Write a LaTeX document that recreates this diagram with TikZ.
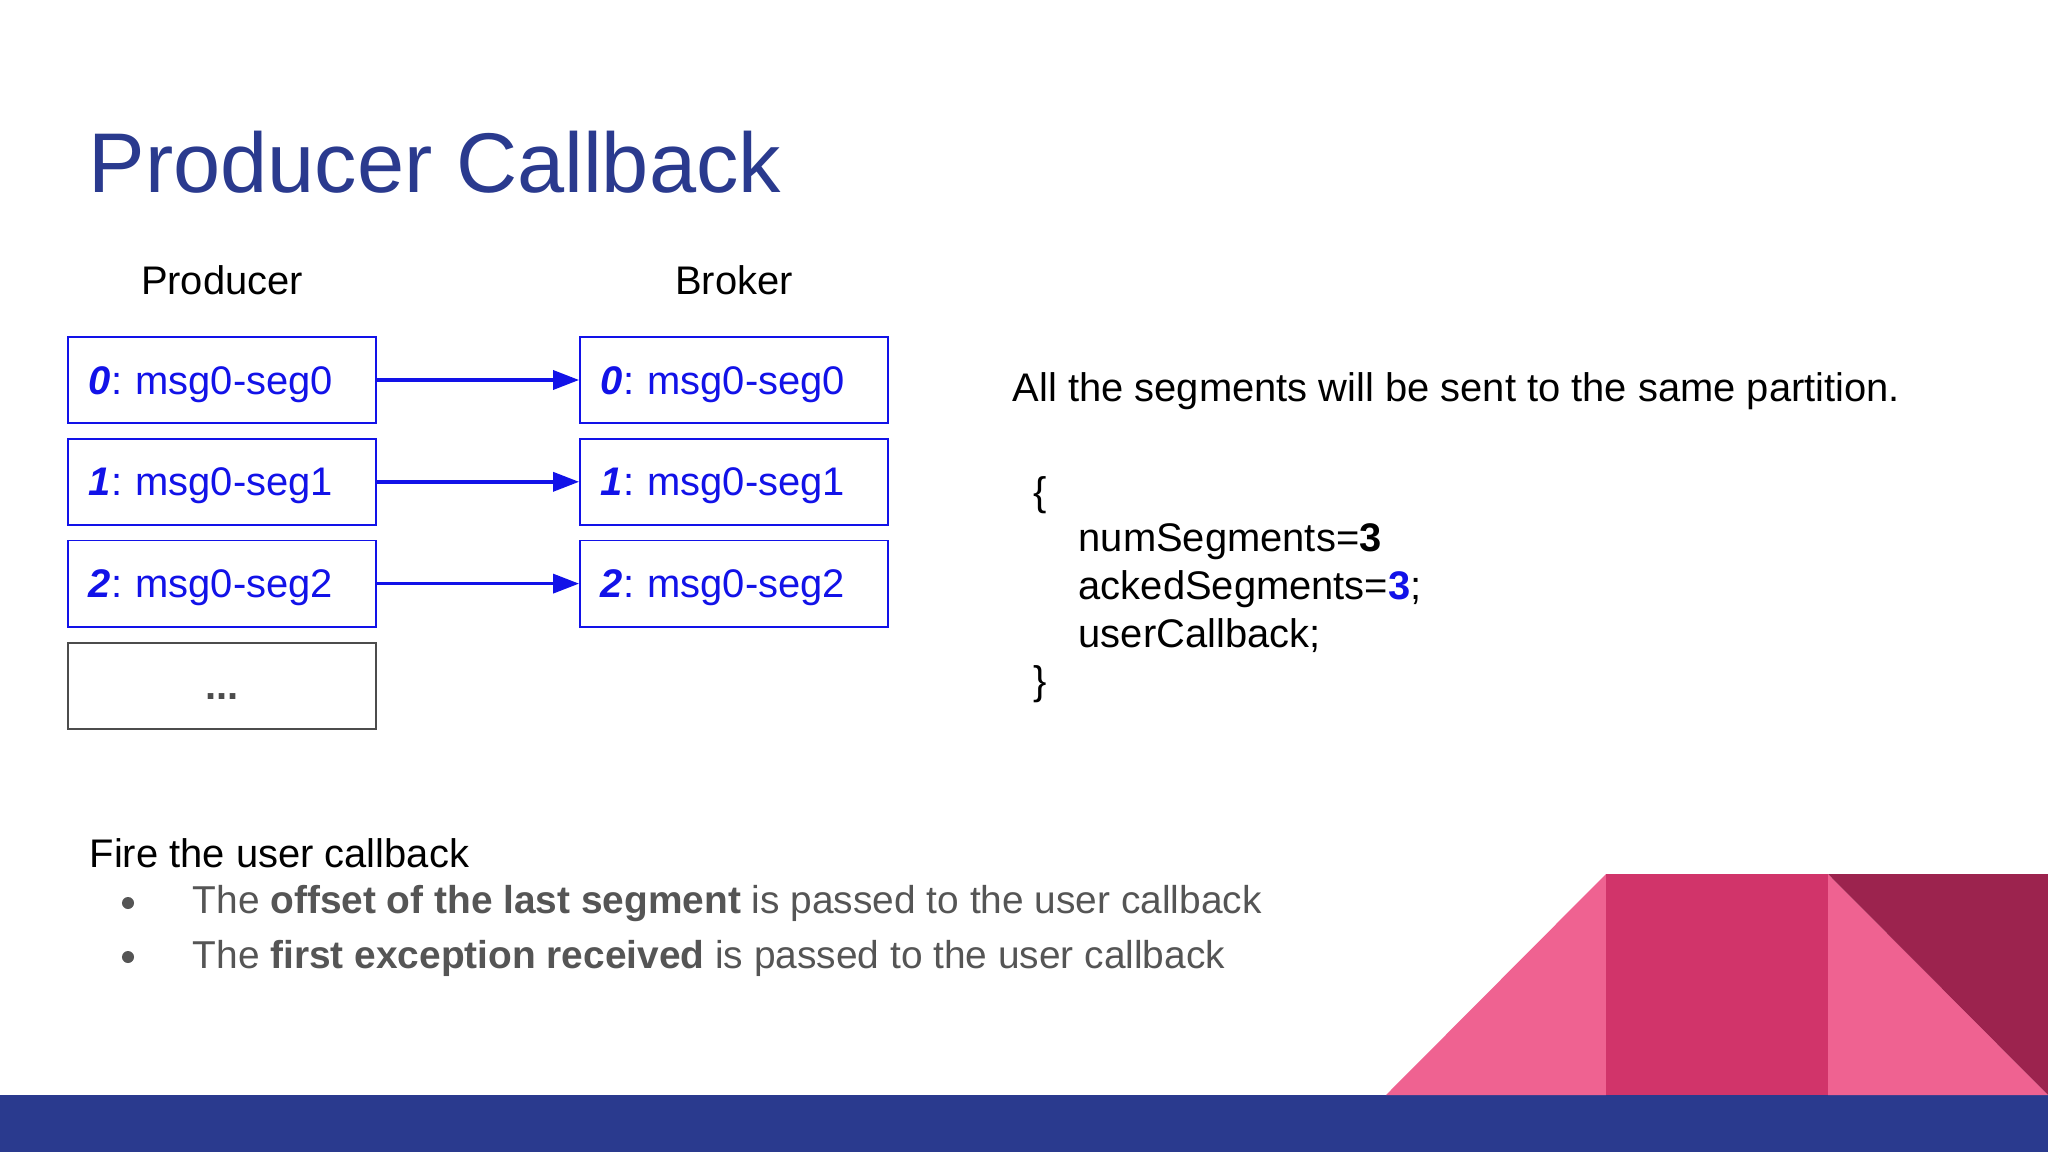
\documentclass[tikz,border=0pt]{standalone}
\usepackage{fontspec}
\setmainfont{Liberation Sans}
\usetikzlibrary{arrows.meta,positioning}
\definecolor{titleblue}{RGB}{42,58,142}
\definecolor{segblue}{RGB}{18,18,232}
\definecolor{bodygray}{RGB}{85,85,85}
\definecolor{lightpink}{RGB}{239,98,145}
\definecolor{midpink}{RGB}{209,52,106}
\definecolor{darkpink}{RGB}{156,35,78}
\frenchspacing

\begin{document}
\begin{tikzpicture}[
  x=0.01cm,y=-0.01cm,
  every node/.style={font=\fontsize{11.35}{13.7}\selectfont},
  seg/.style={draw=segblue,line width=0.5pt,text=segblue,text width=2.66cm,inner xsep=0.21cm,minimum height=0.86cm,text height=0.36cm,text depth=0.08cm,align=left},
  more/.style={draw=black!70,line width=0.7pt,text=black!70,minimum width=3.08cm,minimum height=0.86cm,text height=0.36cm,text depth=0.08cm},
  send/.style={segblue,line width=1pt,-{Triangle[length=2.6mm,width=1.9mm]}},
  txt/.style={anchor=base west,inner sep=0pt},
  bull/.style={txt,text=bodygray,font=\fontsize{11.05}{13.5}\selectfont},
  dot/.style={circle,fill=bodygray,inner sep=0pt,minimum size=0.12cm}
]
\fill[white] (0,0) rectangle (2048,1152);
\useasboundingbox (0,0) rectangle (2048,1152);

\node[txt,text=titleblue,font=\fontsize{24.1}{28}\selectfont] (title) at (88,193) {Producer Callback};
\node[anchor=base] (prodlabel) at (222,295) {Producer};
\node[anchor=base] (brokerlabel) at (734,295) {Broker};

\node[seg] (p0) at (222,380) {{\bfseries\itshape 0}: msg0-seg0};
\node[seg,below=0.14cm of p0] (p1) {{\bfseries\itshape 1}: msg0-seg1};
\node[seg,below=0.14cm of p1] (p2) {{\bfseries\itshape 2}: msg0-seg2};
\node[more,below=0.14cm of p2] (pmore) {\textbf{...}};
\node[seg,right=2.02cm of p0] (b0) {{\bfseries\itshape 0}: msg0-seg0};
\node[seg,right=2.02cm of p1] (b1) {{\bfseries\itshape 1}: msg0-seg1};
\node[seg,right=2.02cm of p2] (b2) {{\bfseries\itshape 2}: msg0-seg2};
\draw[send] (p0) -- (b0);
\draw[send] (p1) -- (b1);
\draw[send] (p2) -- (b2);

\node[txt] (note) at (1012,402) {All the segments will be sent to the same partition.};
\node[txt] (open) at (1033,505) {\{};
\node[txt] (num) at (1078,552) {numSegments=\textbf{3}};
\node[txt] (acked) at (1078,600) {ackedSegments=\textcolor{segblue}{\textbf{3}};};
\node[txt] (user) at (1078,647) {userCallback;};
\node[txt] (close) at (1033,694) {\}};

\node[txt] (fire) at (89,867) {Fire the user callback};
\node[dot] (dot1) at (128,903) {};
\node[bull] (offset) at (192,913) {The \textbf{offset of the last segment} is passed to the user callback};
\node[dot] (dot2) at (128,957) {};
\node[bull] (exception) at (192,968) {The \textbf{first exception received} is passed to the user callback};

\fill[titleblue] (0,1095) rectangle (2048,1152);
\fill[lightpink] (1386,1095) -- (1606,874) -- (1606,1095) -- cycle;
\fill[midpink] (1606,874) rectangle (1828,1095);
\fill[lightpink] (1828,874) -- (2048,1095) -- (1828,1095) -- cycle;
\fill[darkpink] (1828,874) -- (2048,874) -- (2048,1095) -- cycle;
\end{tikzpicture}
\end{document}
